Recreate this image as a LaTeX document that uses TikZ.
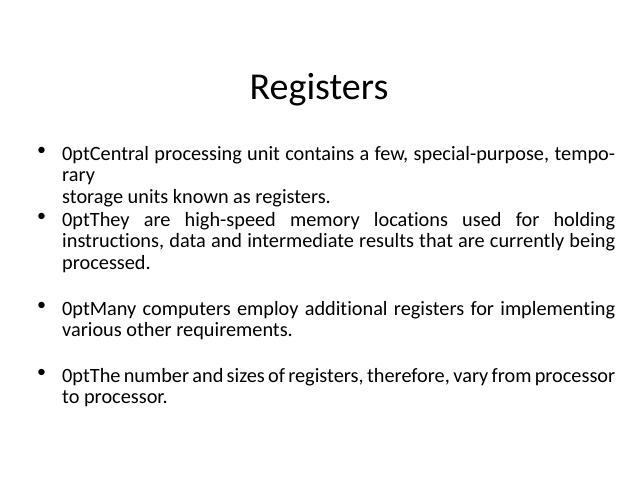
\documentclass[tikz,border=0pt]{standalone}
\usepackage{fontspec}
\setmainfont[Ligatures=NoCommon]{Carlito}
\tikzset{para/.style={anchor=north west,inner sep=0pt,text width=553pt,align=justify,font=\fontsize{20.3}{21.5}\selectfont\hyphenpenalty=10000},
bul/.style={anchor=north west,inner sep=0pt,font=\fontsize{18}{21.5}\selectfont}}
\begin{document}
\begin{tikzpicture}[x=1pt,y=-1pt]
\useasboundingbox (0,0) rectangle (638,478);
\node[font=\fontsize{38}{44}\selectfont,anchor=base] (t) at (319,100) {Registers};
\node[bul] (b1) at (37,147) {•};
\node[para] (p1) at (62,146) {Central processing unit contains a few, special-purpose, temporary\linebreak storage units known as registers.};
\node[bul] (b2) at (37,213) {•};
\node[para] (p2) at (62,212) {They are high-speed memory locations used for holding\linebreak instructions, data and intermediate results that are currently being\linebreak processed.};
\node[bul] (b3) at (37,302) {•};
\node[para] (p3) at (62,301) {Many computers employ additional registers for implementing\linebreak various other requirements.};
\node[bul] (b4) at (37,369) {•};
\node[para] (p4) at (62,368) {The number and sizes of registers, therefore, vary from processor\linebreak to processor.};
\end{tikzpicture}
\end{document}
